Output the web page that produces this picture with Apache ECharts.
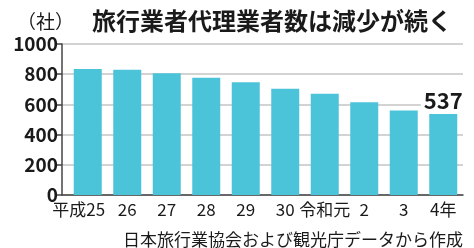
<!DOCTYPE html>
<html><head><meta charset="utf-8">
<script src="https://cdn.jsdelivr.net/npm/echarts@6/dist/echarts.min.js"></script>
<style>html,body{margin:0;padding:0;background:#fff}#c{width:474px;height:248px}</style>
</head><body><div id="c"></div>
<script>
const categories = ['平成25','26','27','28','29','30','令和元','2','3','4年'];
const values = [835, 829, 806, 776, 747, 703, 671, 615, 560, 537];
const yTicks = [0, 200, 400, 600, 800, 1000];
const titleText = '旅行業者代理業者数は減少が続く';
const unitText = '（社）';
const sourceText = '日本旅行業協会および観光庁データから作成';

const FONT = '"Noto Sans CJK JP", "Noto Sans", sans-serif';
const chart = echarts.init(document.getElementById('c'), null, {renderer:'canvas'});
const lastIdx = values.length - 1;
chart.setOption({
  animation: false,
  backgroundColor: '#fff',
  title: [
    {text: titleText, left: 87, top: 4, textStyle:{fontFamily: FONT, fontSize: 24, fontWeight: 'bold', color:'#1a1a1a'}},
    {text: unitText, left: 12, top: 7, textStyle:{fontFamily: FONT, fontSize: 19, fontWeight: 'normal', color:'#1a1a1a'}},
    {text: sourceText, right: 6, top: 226, textStyle:{fontFamily: FONT, fontSize: 17, fontWeight: 'normal', color:'#1a1a1a'}}
  ],
  grid: [
    {left: 62, right: 11, top: 44, bottom: 53},
    {left: 68, right: 11, top: 44, bottom: 53}
  ],
  xAxis: [
    {type:'category', gridIndex:0, data: categories, boundaryGap: true,
     axisLine:{show:true, lineStyle:{color:'#444', width:1.5}}, axisTick:{show:false}, axisLabel:{show:false}},
    {type:'category', gridIndex:1, data: categories,
     axisLine:{show:false}, axisTick:{show:false},
     axisLabel:{interval: 0, hideOverlap: false, fontFamily: FONT, fontSize: 17, color:'#1a1a1a', margin: 6,
       formatter: (v, i) => i === 0 ? '{a|' + v + '}' : v,
       rich:{a:{fontFamily: FONT, fontSize: 17, color:'#1a1a1a', padding:[0,18,0,0]}}}}
  ],
  yAxis: [
    {type:'value', gridIndex:0, min: yTicks[0], max: yTicks[yTicks.length-1], interval: yTicks[1]-yTicks[0],
     axisLine:{show:true, lineStyle:{color:'#444', width:1.5}},
     axisTick:{show:true, length:5, lineStyle:{color:'#444', width:1.5}},
     axisLabel:{fontFamily: FONT, fontSize: 19, fontWeight:'bold', color:'#1a1a1a', margin: 4,
       formatter: v => String(v)},
     splitLine:{show:true, lineStyle:{color:'#c4c4c4', width:1.5}}},
    {type:'value', gridIndex:1, min: yTicks[0], max: yTicks[yTicks.length-1], show:false, splitLine:{show:false}}
  ],
  series: [{
    type:'bar', xAxisIndex:1, yAxisIndex:1, barWidth: 28,
    itemStyle:{color:'#4bc3d8'},
    data: values.map((v, i) => i === lastIdx ? {value: v, label:{show:true, position:'top', distance: 2,
      fontFamily: FONT, fontSize: 22, fontWeight:'bold', color:'#1a1a1a', backgroundColor:'#fff', padding:[0,3,0,3]}} : v)
  }]
});
</script></body></html>
